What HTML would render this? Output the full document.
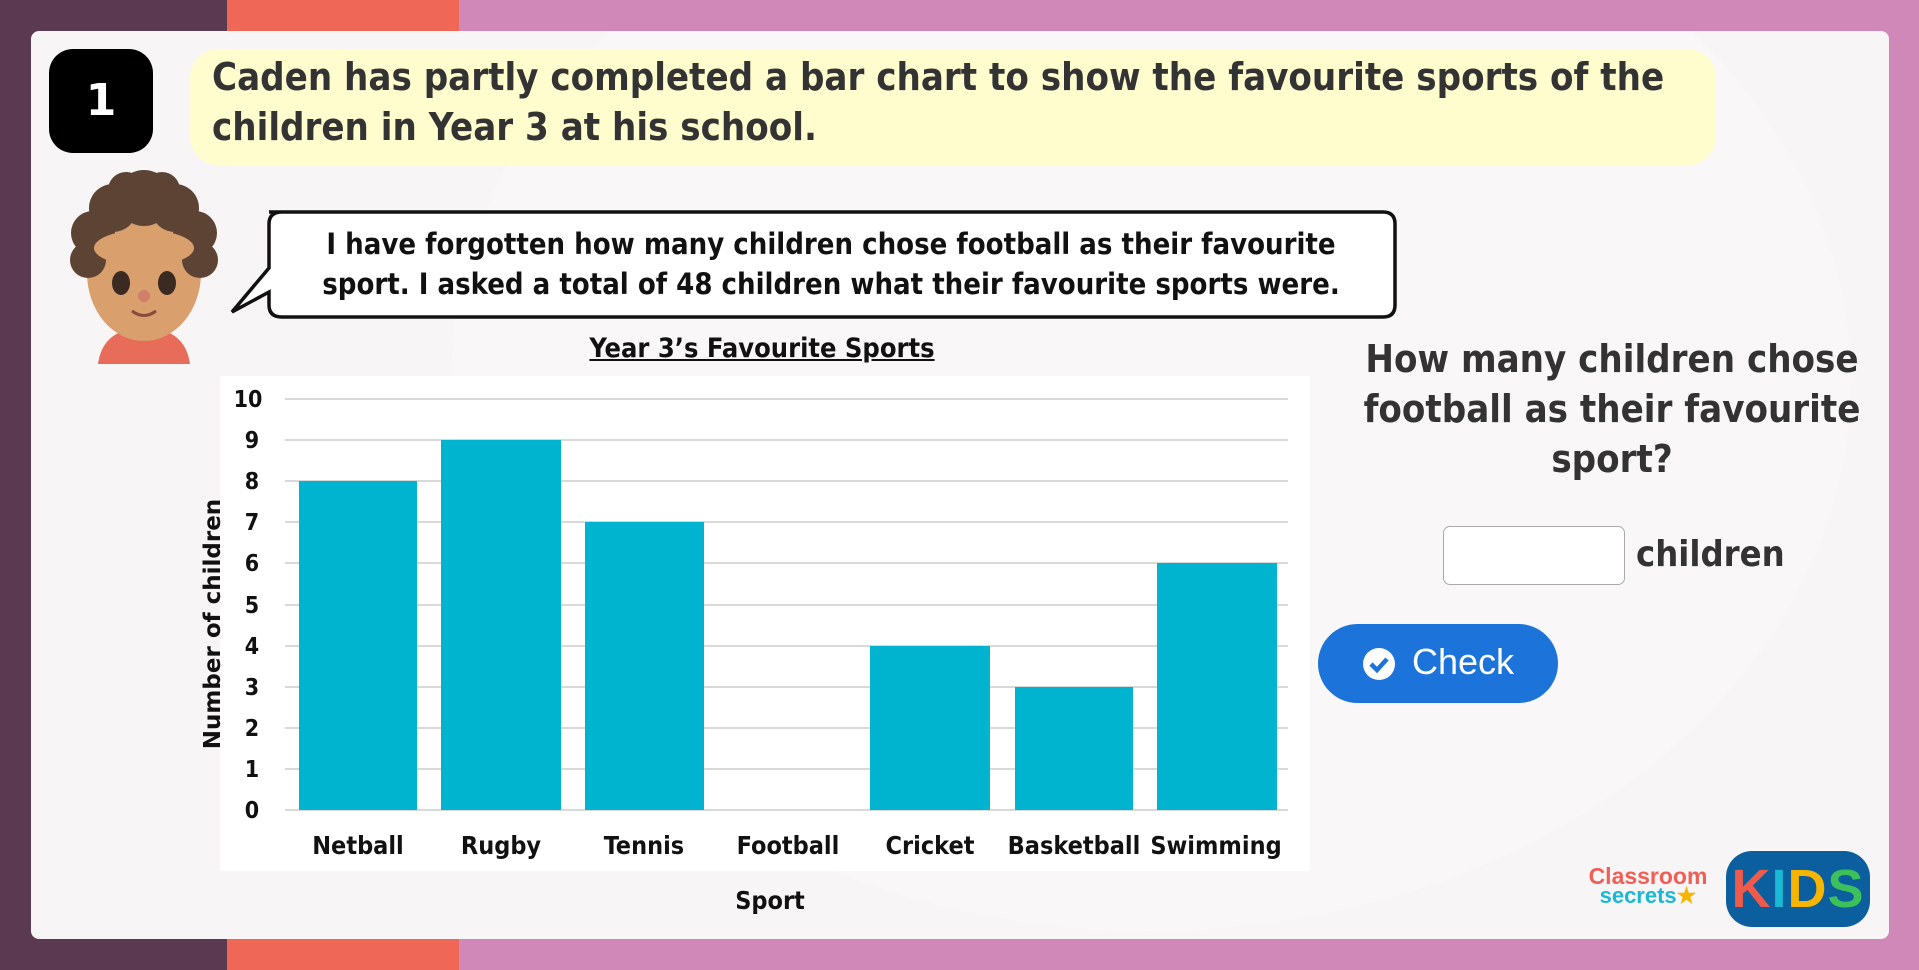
<!DOCTYPE html>
<html style="width:1919px;height:970px;overflow:hidden"><head><meta charset="utf-8"><style>
*{margin:0;padding:0;box-sizing:border-box}
body{width:1919px;height:970px;overflow:hidden;position:relative;font-family:"DejaVu Sans","Liberation Sans",sans-serif;background:#d088b8}
.abs{position:absolute}
.t{font-family:"DejaVu Sans Condensed","DejaVu Sans",sans-serif;font-weight:bold;color:#333}
.g{font-family:"DejaVu Sans Condensed","Liberation Sans",sans-serif;font-weight:bold;color:#111}
</style></head><body>
<div class="abs" style="left:0;top:0;width:227px;height:970px;background:#5b3a51"></div>
<div class="abs" style="left:227px;top:0;width:232px;height:970px;background:#ee6757"></div>
<div class="abs" style="left:31px;top:31px;width:1858px;height:908px;background:#f8f5f7;border-radius:8px;overflow:hidden">
  <div class="abs" style="left:420px;top:-200px;width:1400px;height:1100px;border-radius:50%;background:#faf7f8"></div>
</div>
<div class="abs" style="left:49px;top:49px;width:104px;height:104px;background:#000;border-radius:24px;color:#fff;font-weight:bold;font-size:44px;text-align:center;line-height:104px">1</div>
<div class="abs" style="left:190px;top:49px;width:1526px;height:116px;background:#fffcce;border-radius:28px"></div>
<div class="abs t" style="left:212px;top:52px;font-size:38px;line-height:50px;width:1500px">Caden has partly completed a bar chart to show the favourite sports of the<br>children in Year 3 at his school.</div>
<svg class="abs" style="left:58px;top:168px" width="172" height="196" viewBox="0 0 172 196">
<path d="M40 196 Q45 160 86 160 Q127 160 132 196Z" fill="#e86c5a"/>
<ellipse cx="86" cy="105" rx="57" ry="68" fill="#d9a06e"/>
<g fill="#5c4334"><circle cx="86" cy="30" r="28"/><circle cx="55" cy="40" r="24"/><circle cx="117" cy="40" r="24"/><circle cx="35" cy="65" r="22"/><circle cx="137" cy="65" r="22"/><circle cx="30" cy="92" r="18"/><circle cx="142" cy="92" r="18"/><circle cx="68" cy="22" r="18"/><circle cx="104" cy="22" r="18"/></g>
<ellipse cx="86" cy="80" rx="50" ry="18" fill="#d9a06e"/>
<ellipse cx="63" cy="115" rx="9" ry="12" fill="#3a2a22"/><ellipse cx="109" cy="115" rx="9" ry="12" fill="#3a2a22"/>
<circle cx="86" cy="128" r="6" fill="#d0806a"/>
<path d="M74 143 Q86 152 98 143" stroke="#8a4a3a" stroke-width="3" fill="none"/>
</svg>
<svg class="abs" style="left:228px;top:208px" width="1172" height="115">
<path d="M41 4 H1155 Q1167 4 1167 16 V97 Q1167 109 1155 109 H54 Q41 109 41 97 V84 L4 104 L41 60 V16 Q41 4 54 4Z" fill="#fff" stroke="#111" stroke-width="3.5"/>
</svg>
<div class="abs g" style="left:267px;top:224px;width:1128px;text-align:center;font-size:29px;line-height:40px">I have forgotten how many children chose football as their favourite<br>sport. I asked a total of 48 children what their favourite sports were.</div>
<div class="abs g" style="left:520px;top:333px;width:484px;text-align:center;font-size:27px;text-decoration:underline">Year 3’s Favourite Sports</div>
<div class="abs" style="left:220px;top:376px;width:1090px;height:495px;background:#fff"></div>
<svg class="abs" style="left:0;top:0" width="1919" height="970">
<g stroke="#d9d9d9" stroke-width="2">
<line x1="285" x2="1288" y1="399" y2="399"/><line x1="285" x2="1288" y1="440" y2="440"/><line x1="285" x2="1288" y1="481" y2="481"/><line x1="285" x2="1288" y1="522" y2="522"/><line x1="285" x2="1288" y1="563" y2="563"/><line x1="285" x2="1288" y1="605" y2="605"/><line x1="285" x2="1288" y1="646" y2="646"/><line x1="285" x2="1288" y1="687" y2="687"/><line x1="285" x2="1288" y1="728" y2="728"/><line x1="285" x2="1288" y1="769" y2="769"/><line x1="285" x2="1288" y1="810" y2="810"/>
</g>
<g fill="#00b3cf">
<rect x="299" y="481" width="118" height="329"/><rect x="441" y="440" width="120" height="370"/><rect x="585" y="522" width="119" height="288"/><rect x="870" y="646" width="120" height="164"/><rect x="1015" y="687" width="118" height="123"/><rect x="1157" y="563" width="120" height="247"/>
</g>
<g font-family="DejaVu Sans Condensed,Liberation Sans,sans-serif" font-weight="bold" font-size="23" fill="#111" text-anchor="middle">
<text x="248" y="407">10</text><text x="252" y="448">9</text><text x="252" y="489">8</text><text x="252" y="530">7</text><text x="252" y="571">6</text><text x="252" y="613">5</text><text x="252" y="654">4</text><text x="252" y="695">3</text><text x="252" y="736">2</text><text x="252" y="777">1</text><text x="252" y="818">0</text>
</g>
<g font-family="DejaVu Sans Condensed,Liberation Sans,sans-serif" font-weight="bold" font-size="25" fill="#111" text-anchor="middle">
<text x="358" y="854">Netball</text><text x="501" y="854">Rugby</text><text x="644" y="854">Tennis</text><text x="788" y="854">Football</text><text x="930" y="854">Cricket</text><text x="1074" y="854">Basketball</text><text x="1216" y="854">Swimming</text>
<text x="770" y="909">Sport</text>
<text transform="translate(220,624) rotate(-90)" font-family="DejaVu Sans,sans-serif" font-size="23">Number of children</text>
</g>
</svg>
<div class="abs t" style="left:1340px;top:334px;width:544px;text-align:center;font-size:38px;line-height:50px">How many children chose<br>football as their favourite<br>sport?</div>
<div class="abs" style="left:1443px;top:526px;width:182px;height:59px;background:#fff;border:1.5px solid #aaa;border-radius:7px"></div>
<div class="abs t" style="left:1636px;top:534px;font-size:36px">children</div>
<div class="abs" style="left:1318px;top:624px;width:240px;height:79px;background:#1c74db;border-radius:40px"></div>
<svg class="abs" style="left:1362px;top:647px" width="34" height="34"><circle cx="17" cy="17" r="16" fill="#fff"/><path d="M9 17 L15 23 L25 12" stroke="#1c74db" stroke-width="4.5" fill="none"/></svg>
<div class="abs" style="left:1412px;top:641px;font-family:'Liberation Sans',sans-serif;font-size:36px;color:#fff">Check</div>
<div class="abs" style="left:1580px;top:866px;font-family:'Liberation Sans',sans-serif;font-weight:bold;line-height:20px;text-align:center;width:136px">
<div style="color:#f05f55;font-size:23px">Classroom</div><div style="color:#1ab8d4;font-size:22px">secrets<span style="color:#f7b500">★</span></div></div>
<div class="abs" style="left:1726px;top:851px;width:144px;height:76px;background:#0b5f9e;border-radius:26px;font-family:'Liberation Sans',sans-serif;font-weight:bold;font-size:54px;line-height:76px;text-align:center;letter-spacing:1px;overflow:hidden"><span style="color:#f05a4a">K</span><span style="color:#1ab8d4">I</span><span style="color:#f7b500">D</span><span style="color:#3cc15a">S</span></div>
</body></html>
